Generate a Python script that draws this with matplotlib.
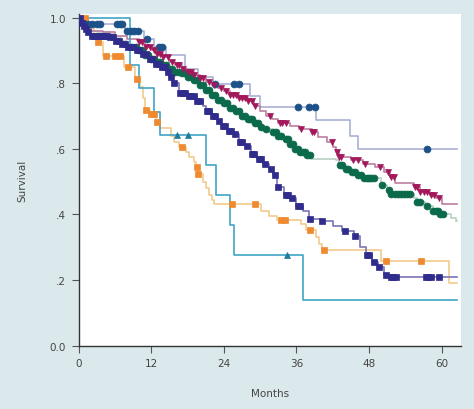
import numpy as np
import matplotlib
matplotlib.use("Agg")
import matplotlib.pyplot as plt

END = 62.6

# ---- data: step times / survival values / censor times ----
teal_t = [0, 8.5, 9.9, 12.5, 13.4, 21.0, 22.7, 25.0, 25.6, 37.1]
teal_s = [1.0, 0.857, 0.786, 0.714, 0.643, 0.551, 0.459, 0.367, 0.276, 0.138]
teal_c = [16.3, 18.1, 34.5]

orange_t = [0, 1.5, 2.5, 3.0, 4.0, 7.5, 9.3, 10.2, 10.6, 10.9, 11.8, 12.8, 13.5, 15.3,
            15.8, 16.5, 17.8, 18.3, 19.0, 19.4, 19.7, 20.5, 21.0, 21.5, 22.0, 22.3,
            30.2, 31.5, 32.8, 36.8, 37.6, 39.3, 39.8, 40.3, 50.0, 61.2]
orange_s = [1.0, 0.97, 0.94, 0.927, 0.884, 0.849, 0.813, 0.79, 0.755, 0.72, 0.706, 0.683,
            0.665, 0.64, 0.62, 0.605, 0.59, 0.575, 0.56, 0.544, 0.523, 0.50, 0.48, 0.46,
            0.445, 0.432, 0.41, 0.395, 0.383, 0.37, 0.353, 0.33, 0.31, 0.293, 0.257, 0.19]
orange_c = [0.4, 1.0, 3.25, 4.5, 6.0, 6.8, 8.2, 9.6, 11.1, 12.0, 12.4, 13.0, 17.1,
            19.6, 19.8, 25.3, 29.1, 33.5, 34.1, 38.2, 40.5, 50.8, 56.6]

navy_t = [0, 0.3, 0.6, 1.0, 1.4, 2.0, 5.0, 6.0, 7.0, 8.0, 9.5, 10.5, 11.5, 12.5, 13.5,
          14.5, 15.0, 15.5, 16.5, 18.0, 19.5, 20.5, 21.0, 22.0, 23.0, 23.5, 24.5, 25.5,
          26.5, 27.5, 28.5, 29.5, 30.5, 31.5, 32.2, 32.8, 34.0, 35.0, 36.0, 37.0, 38.0,
          40.0, 42.0, 43.5, 45.5, 46.5, 47.5, 48.5, 49.5, 50.5, 51.5]
navy_s = [1.0, 0.985, 0.975, 0.965, 0.955, 0.945, 0.94, 0.93, 0.92, 0.91, 0.90, 0.89,
          0.875, 0.86, 0.85, 0.835, 0.82, 0.80, 0.77, 0.76, 0.745, 0.73, 0.715, 0.70,
          0.685, 0.67, 0.655, 0.645, 0.62, 0.61, 0.585, 0.57, 0.555, 0.54, 0.52, 0.485,
          0.46, 0.45, 0.425, 0.41, 0.385, 0.38, 0.365, 0.35, 0.335, 0.30, 0.275, 0.255,
          0.24, 0.215, 0.208]
navy_c = [0.2, 0.5, 0.8, 1.2, 1.6, 2.2, 2.6, 3.0, 3.4, 3.8, 4.2, 4.6, 5.2, 5.6, 6.2,
          6.6, 7.2, 7.6, 8.2, 8.6, 9.0, 9.6, 10.0, 10.7, 11.2, 11.8, 12.2, 12.8, 13.2,
          13.8, 14.2, 14.8, 15.2, 15.8, 16.8, 17.2, 17.6, 18.2, 18.6, 19.0, 19.6, 20.0,
          21.2, 21.6, 22.2, 22.6, 23.2, 23.8, 24.2, 24.8, 25.2, 25.8, 26.6, 27.0, 27.8,
          28.6, 29.0, 29.8, 30.2, 30.8, 31.8, 32.4, 33.0, 34.2, 34.6, 35.2, 36.2, 36.6,
          38.2, 40.2, 44.0, 45.6, 47.6, 48.0, 48.8, 49.6, 50.8, 51.6, 52.0, 52.4, 57.4,
          57.8, 58.2, 59.6]

green_t = [0, 0.3, 0.7, 1.2, 2.0, 3.0, 5.0, 6.0, 7.0, 8.0, 9.0, 10.0, 11.0, 12.0, 13.0,
           14.0, 15.0, 16.0, 17.0, 18.0, 19.0, 20.0, 21.0, 22.0, 23.0, 24.0, 25.0, 26.0,
           27.0, 28.0, 29.0, 30.0, 31.0, 32.0, 33.0, 34.0, 35.0, 35.5, 36.5, 37.5, 38.5,
           42.5, 43.0, 44.0, 45.0, 46.0, 47.0, 50.0, 51.0, 51.7, 55.5, 56.0, 57.2, 58.5,
           59.5, 61.5, 62.3]
green_s = [1.0, 0.985, 0.975, 0.965, 0.958, 0.955, 0.95, 0.94, 0.93, 0.92, 0.91, 0.90,
           0.885, 0.875, 0.865, 0.855, 0.845, 0.835, 0.83, 0.82, 0.81, 0.795, 0.78, 0.765,
           0.75, 0.74, 0.725, 0.715, 0.70, 0.69, 0.68, 0.668, 0.66, 0.65, 0.64, 0.63,
           0.615, 0.60, 0.59, 0.58, 0.57, 0.565, 0.55, 0.54, 0.53, 0.52, 0.511, 0.49,
           0.475, 0.462, 0.45, 0.437, 0.425, 0.41, 0.40, 0.39, 0.38]
green_c = [9.5, 10.0, 10.5, 11.0, 11.5, 12.0, 12.5, 13.0, 13.5, 14.0, 14.5, 15.0, 15.5,
           16.0, 16.5, 17.0, 17.5, 18.0, 18.5, 19.0, 19.5, 20.0, 20.5, 21.0, 21.5, 22.0,
           22.5, 23.0, 23.5, 24.0, 24.5, 25.0, 25.5, 26.0, 26.5, 27.0, 27.5, 28.0, 28.3,
           28.7, 29.2, 29.7, 30.2, 31.0, 32.2, 32.6, 33.0, 33.5, 34.2, 34.6, 35.0, 35.4,
           35.8, 36.2, 36.6, 37.0, 37.4, 37.8, 38.3, 43.2, 43.6, 44.2, 44.6, 45.2, 45.6,
           46.2, 46.6, 47.2, 47.6, 48.0, 48.4, 48.8, 50.1, 51.3, 51.7, 52.3, 52.8, 53.3,
           53.8, 54.3, 54.8, 56.0, 56.4, 57.5, 58.6, 59.0, 59.4, 59.8, 60.2]

magenta_t = [0, 0.5, 1.0, 2.0, 4.0, 6.0, 8.0, 10.0, 11.0, 12.0, 13.0, 14.0, 15.0, 16.0,
             17.0, 18.0, 19.0, 20.0, 21.0, 22.0, 23.0, 24.0, 25.0, 26.5, 28.0, 29.0, 30.0,
             31.0, 32.0, 33.0, 35.0, 36.5, 38.5, 39.5, 41.0, 42.0, 42.5, 43.0, 45.0, 47.0,
             49.0, 50.5, 51.5, 52.3, 55.5, 56.5, 58.0, 59.0, 60.0]
magenta_s = [1.0, 0.98, 0.97, 0.96, 0.955, 0.945, 0.935, 0.925, 0.91, 0.90, 0.89, 0.88,
             0.865, 0.855, 0.845, 0.835, 0.825, 0.815, 0.805, 0.795, 0.785, 0.775, 0.765,
             0.755, 0.745, 0.73, 0.715, 0.70, 0.69, 0.68, 0.67, 0.66, 0.65, 0.635, 0.62,
             0.605, 0.59, 0.575, 0.565, 0.555, 0.545, 0.53, 0.515, 0.495, 0.485, 0.47,
             0.46, 0.45, 0.432]
magenta_c = [10.0, 10.5, 11.2, 11.8, 12.4, 13.0, 13.4, 14.0, 14.8, 15.4, 16.2, 16.6, 17.2,
             18.0, 18.5, 19.0, 20.0, 20.5, 21.5, 22.3, 23.5, 24.3, 25.0, 25.5, 26.0, 26.5,
             27.0, 27.5, 28.0, 28.6, 29.1, 31.6, 33.2, 33.6, 34.2, 36.7, 38.6, 38.9, 41.8,
             42.7, 43.0, 43.3, 45.4, 46.2, 47.3, 49.8, 51.2, 51.6, 52.1, 55.6, 56.0, 56.5,
             57.0, 57.5, 58.2, 58.8, 59.5]

blue_t = [0, 0.4, 7.6, 10.8, 12.5, 14.5, 17.6, 19.8, 22.2, 28.3, 30.0, 39.3, 44.8, 46.2]
blue_s = [1.0, 0.98, 0.96, 0.935, 0.91, 0.885, 0.845, 0.82, 0.797, 0.762, 0.727, 0.689,
          0.64, 0.60]
blue_c = [1.0, 1.6, 2.2, 3.0, 3.6, 6.4, 6.8, 7.2, 8.0, 8.6, 9.2, 9.8, 11.3, 13.2, 13.8,
          22.5, 25.7, 26.5, 36.3, 38.0, 39.1, 57.5]

x_ticks = [0, 12, 24, 36, 48, 60]
y_ticks = [0.0, 0.2, 0.4, 0.6, 0.8, 1.0]
y_tick_labels = ["0.0", ".2", ".4", ".6", ".8", "1.0"]

BG = "#dce9ec"

fig = plt.figure(figsize=(4.74, 4.10), dpi=100, facecolor=BG)
ax = fig.add_axes([0.166, 0.1544, 0.8066, 0.8096])
ax.set_facecolor("white")

series = [
    # t, s, c, line color, marker color, marker, size
    (orange_t, orange_s, orange_c, "#f2cb8e", "#ee8a2f", "s", 4.6),
    (blue_t, blue_s, blue_c, "#aab0d6", "#1d5289", "o", 5.0),
    (green_t, green_s, green_c, "#b7cfc4", "#0c6a4c", "o", 5.0),
    (magenta_t, magenta_s, magenta_c, "#bb7f9f", "#a2185b", "v", 4.8),
    (navy_t, navy_s, navy_c, "#7a76b6", "#2f2c8c", "s", 5.0),
    (teal_t, teal_s, teal_c, "#3fa3c7", "#1f7a9b", "^", 3.8),
]

for t, s, c, lc, mc, mk, ms in series:
    tt = np.array(list(t) + [END])
    ss = np.array(list(s) + [s[-1]])
    ax.step(tt, ss, where="post", color=lc, lw=1.2, zorder=2)
    t_arr = np.array(t)
    idx = np.searchsorted(t_arr, np.array(c), side="right") - 1
    cy = np.array(s)[idx]
    ax.plot(c, cy, linestyle="none", marker=mk, markersize=ms, color=mc,
            markeredgecolor=mc, markeredgewidth=0.5, zorder=3)

ax.set_xlim(0, 63.2)
ax.set_ylim(0, 1.012)
ax.set_xticks(x_ticks)
ax.set_yticks(y_ticks)
ax.set_yticklabels(y_tick_labels)
for sp in ["top", "right"]:
    ax.spines[sp].set_visible(False)
for sp in ["left", "bottom"]:
    ax.spines[sp].set_color("#333333")
    ax.spines[sp].set_linewidth(1.0)
ax.spines["left"].set_bounds(0, 1.01)
ax.tick_params(direction="out", length=5, width=0.8, color="#555555",
               labelsize=7.5, labelcolor="#444444", pad=4)
ax.set_xlabel("Months", fontsize=7.5, color="#444444", labelpad=14)
ax.set_ylabel("Survival", fontsize=7.5, color="#444444", labelpad=16)

fig.savefig("out.png", dpi=100, facecolor=BG)
